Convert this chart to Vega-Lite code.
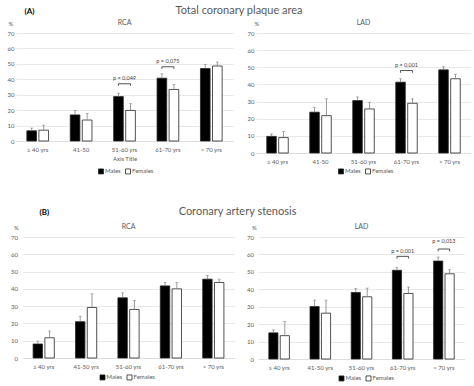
{
  "$schema": "https://vega.github.io/schema/vega-lite/v6.json",
  "padding": {"left": 7, "top": 5, "right": 0, "bottom": 0},
  "background": "white",
  "config": {
    "font": "Lato",
    "view": {"stroke": null},
    "axis": {"labelColor": "#595959", "labelFontSize": 6, "titleColor": "#595959", "titleFontSize": 6, "titleFontWeight": "normal", "ticks": false, "gridColor": "#d9d9d9", "gridWidth": 0.6, "domainColor": "#d9d9d9", "domainWidth": 0.8},
    "axisY": {"domain": false, "labelPadding": 2},
    "axisX": {"labelAngle": 0, "labelPadding": 5, "grid": false},
    "legend": {"orient": "none", "direction": "horizontal", "title": null, "symbolType": "square", "symbolSize": 25, "symbolStrokeColor": "#262626", "symbolStrokeWidth": 0.8, "labelFontSize": 6, "labelColor": "#595959", "columnPadding": 2, "labelOffset": 1, "padding": 0},
    "title": {"color": "#595959", "fontWeight": "normal", "fontSize": 7, "offset": 2, "dy": 8}
  },
  "datasets": {
    "bars": [
      {"panel": "A-RCA", "age": "≤ 40 yrs", "sex": "Males", "value": 6.6, "upper": 8.4},
      {"panel": "A-RCA", "age": "≤ 40 yrs", "sex": "Females", "value": 7.0, "upper": 10.3},
      {"panel": "A-RCA", "age": "41-50", "sex": "Males", "value": 16.9, "upper": 19.8},
      {"panel": "A-RCA", "age": "41-50", "sex": "Females", "value": 13.6, "upper": 17.8},
      {"panel": "A-RCA", "age": "51-60 yrs", "sex": "Males", "value": 28.8, "upper": 31.0},
      {"panel": "A-RCA", "age": "51-60 yrs", "sex": "Females", "value": 19.8, "upper": 24.2},
      {"panel": "A-RCA", "age": "61-70 yrs", "sex": "Males", "value": 40.7, "upper": 43.5},
      {"panel": "A-RCA", "age": "61-70 yrs", "sex": "Females", "value": 33.4, "upper": 36.7},
      {"panel": "A-RCA", "age": "> 70 yrs", "sex": "Males", "value": 47.0, "upper": 49.7},
      {"panel": "A-RCA", "age": "> 70 yrs", "sex": "Females", "value": 48.6, "upper": 51.2},
      {"panel": "A-LAD", "age": "≤ 40 yrs", "sex": "Males", "value": 9.7, "upper": 11.1},
      {"panel": "A-LAD", "age": "≤ 40 yrs", "sex": "Females", "value": 9.0, "upper": 12.5},
      {"panel": "A-LAD", "age": "41-50", "sex": "Males", "value": 23.8, "upper": 26.5},
      {"panel": "A-LAD", "age": "41-50", "sex": "Females", "value": 21.8, "upper": 31.6},
      {"panel": "A-LAD", "age": "51-60 yrs", "sex": "Males", "value": 30.6, "upper": 32.7},
      {"panel": "A-LAD", "age": "51-60 yrs", "sex": "Females", "value": 25.7, "upper": 29.6},
      {"panel": "A-LAD", "age": "61-70 yrs", "sex": "Males", "value": 41.3, "upper": 43.3},
      {"panel": "A-LAD", "age": "61-70 yrs", "sex": "Females", "value": 29.0, "upper": 31.6},
      {"panel": "A-LAD", "age": "> 70 yrs", "sex": "Males", "value": 48.5, "upper": 50.3},
      {"panel": "A-LAD", "age": "> 70 yrs", "sex": "Females", "value": 43.3, "upper": 46.0},
      {"panel": "B-RCA", "age": "≤ 40 yrs", "sex": "Males", "value": 8.1, "upper": 9.8},
      {"panel": "B-RCA", "age": "≤ 40 yrs", "sex": "Females", "value": 11.7, "upper": 15.6},
      {"panel": "B-RCA", "age": "41-50 yrs", "sex": "Males", "value": 21.0, "upper": 24.2},
      {"panel": "B-RCA", "age": "41-50 yrs", "sex": "Females", "value": 29.2, "upper": 37.1},
      {"panel": "B-RCA", "age": "51-60 yrs", "sex": "Males", "value": 34.8, "upper": 37.7},
      {"panel": "B-RCA", "age": "51-60 yrs", "sex": "Females", "value": 28.1, "upper": 33.3},
      {"panel": "B-RCA", "age": "61-70 yrs", "sex": "Males", "value": 41.7, "upper": 43.7},
      {"panel": "B-RCA", "age": "61-70 yrs", "sex": "Females", "value": 40.0, "upper": 43.7},
      {"panel": "B-RCA", "age": "> 70 yrs", "sex": "Males", "value": 45.6, "upper": 47.7},
      {"panel": "B-RCA", "age": "> 70 yrs", "sex": "Females", "value": 43.7, "upper": 45.6},
      {"panel": "B-LAD", "age": "≤ 40 yrs", "sex": "Males", "value": 15.0, "upper": 16.7},
      {"panel": "B-LAD", "age": "≤ 40 yrs", "sex": "Females", "value": 13.4, "upper": 21.5},
      {"panel": "B-LAD", "age": "41-50 yrs", "sex": "Males", "value": 30.1, "upper": 33.8},
      {"panel": "B-LAD", "age": "41-50 yrs", "sex": "Females", "value": 26.3, "upper": 33.8},
      {"panel": "B-LAD", "age": "51-60 yrs", "sex": "Males", "value": 38.2, "upper": 40.5},
      {"panel": "B-LAD", "age": "51-60 yrs", "sex": "Females", "value": 35.7, "upper": 40.7},
      {"panel": "B-LAD", "age": "61-70 yrs", "sex": "Males", "value": 50.9, "upper": 52.6},
      {"panel": "B-LAD", "age": "61-70 yrs", "sex": "Females", "value": 37.6, "upper": 41.3},
      {"panel": "B-LAD", "age": "> 70 yrs", "sex": "Males", "value": 56.2, "upper": 58.5},
      {"panel": "B-LAD", "age": "> 70 yrs", "sex": "Females", "value": 48.9, "upper": 51.2}
    ],
    "pv": [
      {"panel": "A-RCA", "age": "51-60 yrs", "label": "p = 0,049", "y": 41},
      {"panel": "A-RCA", "age": "61-70 yrs", "label": "p = 0,075", "y": 52},
      {"panel": "A-LAD", "age": "61-70 yrs", "label": "p = 0,001", "y": 51.5},
      {"panel": "B-LAD", "age": "61-70 yrs", "label": "p = 0,001", "y": 62.2},
      {"panel": "B-LAD", "age": "> 70 yrs", "label": "p = 0,013", "y": 67.8}
    ],
    "br": [
      {"panel": "A-RCA", "age": "51-60 yrs", "sex": "Males", "y": 35.8, "ord": 1},
      {"panel": "A-RCA", "age": "51-60 yrs", "sex": "Males", "y": 37.1, "ord": 2},
      {"panel": "A-RCA", "age": "51-60 yrs", "sex": "Females", "y": 37.1, "ord": 3},
      {"panel": "A-RCA", "age": "51-60 yrs", "sex": "Females", "y": 35.8, "ord": 4},
      {"panel": "A-RCA", "age": "61-70 yrs", "sex": "Males", "y": 46.8, "ord": 1},
      {"panel": "A-RCA", "age": "61-70 yrs", "sex": "Males", "y": 48.1, "ord": 2},
      {"panel": "A-RCA", "age": "61-70 yrs", "sex": "Females", "y": 48.1, "ord": 3},
      {"panel": "A-RCA", "age": "61-70 yrs", "sex": "Females", "y": 46.8, "ord": 4},
      {"panel": "A-LAD", "age": "61-70 yrs", "sex": "Males", "y": 46.8, "ord": 1},
      {"panel": "A-LAD", "age": "61-70 yrs", "sex": "Males", "y": 48.1, "ord": 2},
      {"panel": "A-LAD", "age": "61-70 yrs", "sex": "Females", "y": 48.1, "ord": 3},
      {"panel": "A-LAD", "age": "61-70 yrs", "sex": "Females", "y": 46.8, "ord": 4},
      {"panel": "B-LAD", "age": "61-70 yrs", "sex": "Males", "y": 57.6, "ord": 1},
      {"panel": "B-LAD", "age": "61-70 yrs", "sex": "Males", "y": 58.9, "ord": 2},
      {"panel": "B-LAD", "age": "61-70 yrs", "sex": "Females", "y": 58.9, "ord": 3},
      {"panel": "B-LAD", "age": "61-70 yrs", "sex": "Females", "y": 57.6, "ord": 4},
      {"panel": "B-LAD", "age": "> 70 yrs", "sex": "Males", "y": 61.8, "ord": 1},
      {"panel": "B-LAD", "age": "> 70 yrs", "sex": "Males", "y": 63.1, "ord": 2},
      {"panel": "B-LAD", "age": "> 70 yrs", "sex": "Females", "y": 63.1, "ord": 3},
      {"panel": "B-LAD", "age": "> 70 yrs", "sex": "Females", "y": 61.8, "ord": 4}
    ]
  },
  "center": true,
  "spacing": 30,
  "resolve": {"scale": {"x": "independent", "y": "independent", "xOffset": "independent", "fill": "independent"}, "legend": {"fill": "independent"}},
  "vconcat": [
    {
      "title": {"text": "(A)", "anchor": "start", "fontSize": 8, "fontWeight": "bold", "color": "#000000", "dx": 17.5, "dy": 11, "offset": 0},
      "resolve": {"scale": {"x": "independent", "y": "independent", "xOffset": "independent", "fill": "independent"}, "legend": {"fill": "independent"}},
      "vconcat": [
        {
          "title": {"text": "Total coronary plaque area", "anchor": "middle", "fontSize": 11, "offset": 3, "dy": 0},
          "spacing": 14,
          "resolve": {"scale": {"x": "independent", "y": "independent", "xOffset": "independent", "fill": "independent"}, "legend": {"fill": "independent"}},
          "hconcat": [
            {
              "width": 217, "height": 108, "title": "RCA",
              "resolve": {"axis": {"x": "independent", "y": "independent"}},
              "layer": [
                {"data": {"name": "bars"}, "transform": [{"filter": "datum.panel === 'A-RCA'"}], "mark": {"type": "bar", "stroke": "#262626", "strokeWidth": 0.8},
                 "encoding": {
                   "x": {"field": "age", "type": "nominal", "sort": null, "scale": {"paddingInner": 0.5, "paddingOuter": 0.25}, "axis": {"title": "Axis Title", "titlePadding": 3}},
                   "xOffset": {"field": "sex", "sort": ["Males", "Females"], "scale": {"paddingInner": 0.2}},
                   "y": {"field": "value", "type": "quantitative", "scale": {"domain": [0, 70]}, "axis": {"values": [0, 10, 20, 30, 40, 50, 60, 70], "labelOverlap": false, "title": "%", "titleAngle": 0, "titleX": -8, "titleY": -10, "titleAlign": "left", "titleBaseline": "middle"}},
                   "fill": {"field": "sex", "type": "nominal", "scale": {"domain": ["Males", "Females"], "range": ["#000000", "#ffffff"]}, "legend": {"legendX": 82, "legendY": 135}}
                 }},
                {"data": {"name": "bars"}, "transform": [{"filter": "datum.panel === 'A-RCA'"}], "mark": {"type": "rule", "color": "#808080", "strokeWidth": 0.8},
                 "encoding": {"x": {"field": "age", "type": "nominal", "sort": null, "axis": null}, "xOffset": {"field": "sex", "sort": ["Males", "Females"]}, "y": {"field": "value", "type": "quantitative", "axis": null}, "y2": {"field": "upper"}}},
                {"data": {"name": "bars"}, "transform": [{"filter": "datum.panel === 'A-RCA'"}], "mark": {"type": "tick", "color": "#808080", "size": 3, "thickness": 0.8},
                 "encoding": {"x": {"field": "age", "type": "nominal", "sort": null, "axis": null}, "xOffset": {"field": "sex", "sort": ["Males", "Females"]}, "y": {"field": "upper", "type": "quantitative", "axis": null}}},
                {"data": {"name": "br"}, "transform": [{"filter": "datum.panel === 'A-RCA'"}], "mark": {"type": "line", "color": "#262626", "strokeWidth": 0.8},
                 "encoding": {"x": {"field": "age", "type": "nominal", "sort": null, "axis": null}, "xOffset": {"field": "sex", "sort": ["Males", "Females"]}, "y": {"field": "y", "type": "quantitative", "axis": null}, "detail": {"field": "age"}, "order": {"field": "ord"}}},
                {"data": {"name": "pv"}, "transform": [{"filter": "datum.panel === 'A-RCA'"}], "mark": {"type": "text", "fontSize": 5.5, "color": "#404040"},
                 "encoding": {"x": {"field": "age", "type": "nominal", "sort": null, "axis": null}, "y": {"field": "y", "type": "quantitative", "axis": null}, "text": {"field": "label"}}}
              ]
            },
            {
              "width": 215, "height": 120, "title": "LAD",
              "resolve": {"axis": {"x": "independent", "y": "independent"}},
              "layer": [
                {"data": {"name": "bars"}, "transform": [{"filter": "datum.panel === 'A-LAD'"}], "mark": {"type": "bar", "stroke": "#262626", "strokeWidth": 0.8},
                 "encoding": {
                   "x": {"field": "age", "type": "nominal", "sort": null, "scale": {"paddingInner": 0.5, "paddingOuter": 0.25}, "axis": {"title": null}},
                   "xOffset": {"field": "sex", "sort": ["Males", "Females"], "scale": {"paddingInner": 0.2}},
                   "y": {"field": "value", "type": "quantitative", "scale": {"domain": [0, 70]}, "axis": {"values": [0, 10, 20, 30, 40, 50, 60, 70], "labelOverlap": false, "title": "%", "titleAngle": 0, "titleX": -2, "titleY": -10, "titleAlign": "left", "titleBaseline": "middle"}},
                   "fill": {"field": "sex", "type": "nominal", "scale": {"domain": ["Males", "Females"], "range": ["#000000", "#ffffff"]}, "legend": {"legendX": 82, "legendY": 135}}
                 }},
                {"data": {"name": "bars"}, "transform": [{"filter": "datum.panel === 'A-LAD'"}], "mark": {"type": "rule", "color": "#808080", "strokeWidth": 0.8},
                 "encoding": {"x": {"field": "age", "type": "nominal", "sort": null, "axis": null}, "xOffset": {"field": "sex", "sort": ["Males", "Females"]}, "y": {"field": "value", "type": "quantitative", "axis": null}, "y2": {"field": "upper"}}},
                {"data": {"name": "bars"}, "transform": [{"filter": "datum.panel === 'A-LAD'"}], "mark": {"type": "tick", "color": "#808080", "size": 3, "thickness": 0.8},
                 "encoding": {"x": {"field": "age", "type": "nominal", "sort": null, "axis": null}, "xOffset": {"field": "sex", "sort": ["Males", "Females"]}, "y": {"field": "upper", "type": "quantitative", "axis": null}}},
                {"data": {"name": "br"}, "transform": [{"filter": "datum.panel === 'A-LAD'"}], "mark": {"type": "line", "color": "#262626", "strokeWidth": 0.8},
                 "encoding": {"x": {"field": "age", "type": "nominal", "sort": null, "axis": null}, "xOffset": {"field": "sex", "sort": ["Males", "Females"]}, "y": {"field": "y", "type": "quantitative", "axis": null}, "detail": {"field": "age"}, "order": {"field": "ord"}}},
                {"data": {"name": "pv"}, "transform": [{"filter": "datum.panel === 'A-LAD'"}], "mark": {"type": "text", "fontSize": 5.5, "color": "#404040"},
                 "encoding": {"x": {"field": "age", "type": "nominal", "sort": null, "axis": null}, "y": {"field": "y", "type": "quantitative", "axis": null}, "text": {"field": "label"}}}
              ]
            }
          ]
        }
      ]
    },
    {
      "title": {"text": "(B)", "anchor": "start", "fontSize": 8, "fontWeight": "bold", "color": "#000000", "dx": 29, "dy": 10.5, "offset": 0},
      "resolve": {"scale": {"x": "independent", "y": "independent", "xOffset": "independent", "fill": "independent"}, "legend": {"fill": "independent"}},
      "vconcat": [
        {
          "title": {"text": "Coronary artery stenosis", "anchor": "middle", "fontSize": 11, "offset": 6, "dy": 0},
          "spacing": 12,
          "resolve": {"scale": {"x": "independent", "y": "independent", "xOffset": "independent", "fill": "independent"}, "legend": {"fill": "independent"}},
          "hconcat": [
            {
              "width": 212, "height": 121, "title": "RCA",
              "resolve": {"axis": {"x": "independent", "y": "independent"}},
              "layer": [
                {"data": {"name": "bars"}, "transform": [{"filter": "datum.panel === 'B-RCA'"}], "mark": {"type": "bar", "stroke": "#262626", "strokeWidth": 0.8},
                 "encoding": {
                   "x": {"field": "age", "type": "nominal", "sort": null, "scale": {"paddingInner": 0.5, "paddingOuter": 0.25}, "axis": {"title": null}},
                   "xOffset": {"field": "sex", "sort": ["Males", "Females"], "scale": {"paddingInner": 0.2}},
                   "y": {"field": "value", "type": "quantitative", "scale": {"domain": [0, 70]}, "axis": {"values": [0, 10, 20, 30, 40, 50, 60, 70], "labelOverlap": false, "labelPadding": 5, "title": "%", "titleAngle": 0, "titleX": -9, "titleY": -10, "titleAlign": "left", "titleBaseline": "middle"}},
                   "fill": {"field": "sex", "type": "nominal", "scale": {"domain": ["Males", "Females"], "range": ["#000000", "#ffffff"]}, "legend": {"legendX": 77, "legendY": 137}}
                 }},
                {"data": {"name": "bars"}, "transform": [{"filter": "datum.panel === 'B-RCA'"}], "mark": {"type": "rule", "color": "#808080", "strokeWidth": 0.8},
                 "encoding": {"x": {"field": "age", "type": "nominal", "sort": null, "axis": null}, "xOffset": {"field": "sex", "sort": ["Males", "Females"]}, "y": {"field": "value", "type": "quantitative", "axis": null}, "y2": {"field": "upper"}}},
                {"data": {"name": "bars"}, "transform": [{"filter": "datum.panel === 'B-RCA'"}], "mark": {"type": "tick", "color": "#808080", "size": 3, "thickness": 0.8},
                 "encoding": {"x": {"field": "age", "type": "nominal", "sort": null, "axis": null}, "xOffset": {"field": "sex", "sort": ["Males", "Females"]}, "y": {"field": "upper", "type": "quantitative", "axis": null}}}
              ]
            },
            {
              "width": 206, "height": 122, "title": "LAD",
              "resolve": {"axis": {"x": "independent", "y": "independent"}},
              "layer": [
                {"data": {"name": "bars"}, "transform": [{"filter": "datum.panel === 'B-LAD'"}], "mark": {"type": "bar", "stroke": "#262626", "strokeWidth": 0.8},
                 "encoding": {
                   "x": {"field": "age", "type": "nominal", "sort": null, "scale": {"paddingInner": 0.5, "paddingOuter": 0.25}, "axis": {"title": null}},
                   "xOffset": {"field": "sex", "sort": ["Males", "Females"], "scale": {"paddingInner": 0.2}},
                   "y": {"field": "value", "type": "quantitative", "scale": {"domain": [0, 70]}, "axis": {"values": [0, 10, 20, 30, 40, 50, 60, 70], "labelOverlap": false, "labelPadding": 5, "title": "%", "titleAngle": 0, "titleX": -7, "titleY": -10, "titleAlign": "left", "titleBaseline": "middle"}},
                   "fill": {"field": "sex", "type": "nominal", "scale": {"domain": ["Males", "Females"], "range": ["#000000", "#ffffff"]}, "legend": {"legendX": 80, "legendY": 138}}
                 }},
                {"data": {"name": "bars"}, "transform": [{"filter": "datum.panel === 'B-LAD'"}], "mark": {"type": "rule", "color": "#808080", "strokeWidth": 0.8},
                 "encoding": {"x": {"field": "age", "type": "nominal", "sort": null, "axis": null}, "xOffset": {"field": "sex", "sort": ["Males", "Females"]}, "y": {"field": "value", "type": "quantitative", "axis": null}, "y2": {"field": "upper"}}},
                {"data": {"name": "bars"}, "transform": [{"filter": "datum.panel === 'B-LAD'"}], "mark": {"type": "tick", "color": "#808080", "size": 3, "thickness": 0.8},
                 "encoding": {"x": {"field": "age", "type": "nominal", "sort": null, "axis": null}, "xOffset": {"field": "sex", "sort": ["Males", "Females"]}, "y": {"field": "upper", "type": "quantitative", "axis": null}}},
                {"data": {"name": "br"}, "transform": [{"filter": "datum.panel === 'B-LAD'"}], "mark": {"type": "line", "color": "#262626", "strokeWidth": 0.8},
                 "encoding": {"x": {"field": "age", "type": "nominal", "sort": null, "axis": null}, "xOffset": {"field": "sex", "sort": ["Males", "Females"]}, "y": {"field": "y", "type": "quantitative", "axis": null}, "detail": {"field": "age"}, "order": {"field": "ord"}}},
                {"data": {"name": "pv"}, "transform": [{"filter": "datum.panel === 'B-LAD'"}], "mark": {"type": "text", "fontSize": 5.5, "color": "#404040"},
                 "encoding": {"x": {"field": "age", "type": "nominal", "sort": null, "axis": null}, "y": {"field": "y", "type": "quantitative", "axis": null}, "text": {"field": "label"}}}
              ]
            }
          ]
        }
      ]
    }
  ]
}
